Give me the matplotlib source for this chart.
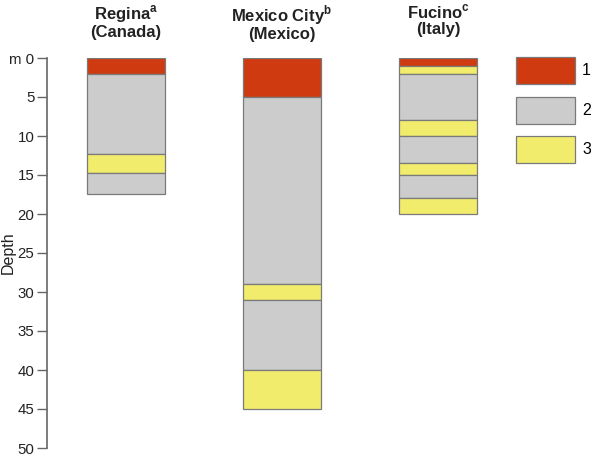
import matplotlib.pyplot as plt
import matplotlib.transforms as mtransforms
from matplotlib.patches import Patch

plt.rcParams['font.family'] = ['Liberation Sans', 'DejaVu Sans']

# sites and their layers (top depth, bottom depth, class)
sites = ['Regina$^{\\mathregular{a}}$\n(Canada)',
         'Mexico City$^{\\mathregular{b}}$\n(Mexico)',
         'Fucino$^{\\mathregular{c}}$\n(Italy)']
regina_tops = [0, 2, 12.3, 14.7]
regina_bots = [2, 12.3, 14.7, 17.5]
regina_cls = [1, 2, 3, 2]
mexico_tops = [0, 5, 29, 31, 40]
mexico_bots = [5, 29, 31, 40, 45]
mexico_cls = [1, 2, 3, 2, 3]
fucino_tops = [0, 1, 2, 8, 10, 13.5, 15, 18]
fucino_bots = [1, 2, 8, 10, 13.5, 15, 18, 20]
fucino_cls = [1, 3, 2, 3, 2, 3, 2, 3]
classes = ['1', '2', '3']
yticks = [0, 5, 10, 15, 20, 25, 30, 35, 40, 45, 50]
ytick_labels = ['m 0', '5', '10', '15', '20', '25', '30', '35', '40', '45', '50']

colors = {1: '#cf3a10', 2: '#cccccc', 3: '#f2ec6c'}
edge = '#7a7a7a'
tick_fs = 10.8
leg_fs = 11.5

fig = plt.figure(figsize=(5.91, 4.54), dpi=100)
ax = fig.add_axes([47 / 591, 1 - 448 / 454, 1 - 47 / 591, (448 - 58) / 454])

layers = [(regina_tops, regina_bots, regina_cls),
          (mexico_tops, mexico_bots, mexico_cls),
          (fucino_tops, fucino_bots, fucino_cls)]
for i, (tops, bots, cls) in enumerate(layers):
    heights = [b - t for t, b in zip(tops, bots)]
    ax.bar([i] * len(tops), heights, bottom=tops, width=0.5,
           color=[colors[c] for c in cls], edgecolor=edge, linewidth=0.9)

ax.set_xlim(-0.506, 2.98)
ax.set_ylim(50, 0)
ax.set_yticks(yticks)
ax.set_yticklabels(ytick_labels, fontsize=tick_fs, color='#222222')
ax.set_xticks([])
for s in ['top', 'right', 'bottom']:
    ax.spines[s].set_visible(False)
ax.spines['left'].set_color('#666666')
ax.spines['left'].set_linewidth(1.2)
ax.tick_params(axis='y', length=7, width=1, color='#666666', pad=2)
ax.set_ylabel('Depth', fontsize=11.5, color='#222222')
ax.yaxis.set_label_coords(-0.058, 0.5)

trans = mtransforms.blended_transform_factory(ax.transData, fig.transFigure)
for i, name in enumerate(sites):
    ax.text(i, 1 - 3 / 454, name, transform=trans, ha='center', va='top',
            fontsize=12, fontweight='bold', color='#222222', linespacing=1.05)

handles = [Patch(facecolor=colors[k], edgecolor=edge, linewidth=0.9) for k in (1, 2, 3)]
px = 72 / 100 / leg_fs  # pixels -> fontsize units
box_h = 27 * 72 / 100 / leg_fs
ax.legend(handles, classes, loc='upper left', bbox_to_anchor=(516 / 591, 1 - 57 / 454),
          bbox_transform=fig.transFigure, frameon=False, fontsize=leg_fs,
          handlelength=59 * px, handleheight=(box_h - 0.245) / 0.65,
          labelspacing=12.5 * px, handletextpad=0.45, borderpad=0, borderaxespad=0)

fig.savefig('out.png', dpi=100)
